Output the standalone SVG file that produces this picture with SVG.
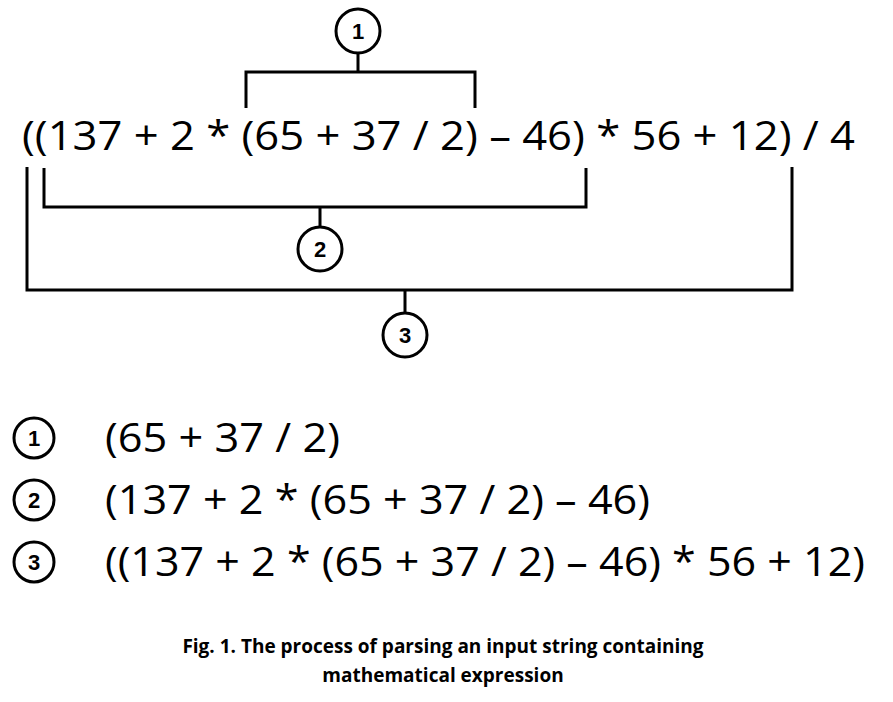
<svg xmlns="http://www.w3.org/2000/svg" width="893" height="702" viewBox="0 0 893 702">
<style>
.t{font-family:"Open Sans","Liberation Sans",sans-serif;font-size:40px;fill:#000}
.c{fill:#fff;stroke:#000;stroke-width:3}
.n{font-family:"Liberation Sans",sans-serif;font-size:22px;font-weight:bold;text-anchor:middle;fill:#000}
.b{fill:none;stroke:#000;stroke-width:3}
.cap{font-family:"Open Sans","Liberation Sans",sans-serif;font-size:19px;font-weight:bold;text-anchor:middle;fill:#000}
</style>
<rect width="893" height="702" fill="#fff"/>
<g id="connectors">
<path class="b" d="M246,108 V72 H475 V108 M358,72 V53"/>
<path class="b" d="M44,168 V207 H586 V168 M320,207 V228"/>
<path class="b" d="M27,167 V290 H792 V167 M405,290 V313"/>
</g>
<g id="expr"><text class="t" x="22" y="150" textLength="833" lengthAdjust="spacingAndGlyphs">((137 + 2 * (65 + 37 / 2) – 46) * 56 + 12) / 4</text></g>
<g id="node1"><circle class="c" cx="358" cy="31" r="22"/><text class="n" x="358" y="39">1</text></g>
<g id="node2"><circle class="c" cx="320" cy="249" r="22"/><text class="n" x="320" y="257">2</text></g>
<g id="node3"><circle class="c" cx="405" cy="335" r="22"/><text class="n" x="405" y="343">3</text></g>
<g id="legend1"><circle class="c" cx="34" cy="438" r="20"/><text class="n" x="34" y="446">1</text><text class="t" x="105" y="452" textLength="235" lengthAdjust="spacingAndGlyphs">(65 + 37 / 2)</text></g>
<g id="legend2"><circle class="c" cx="34" cy="500" r="20"/><text class="n" x="34" y="508">2</text><text class="t" x="105" y="514" textLength="545" lengthAdjust="spacingAndGlyphs">(137 + 2 * (65 + 37 / 2) – 46)</text></g>
<g id="legend3"><circle class="c" cx="34" cy="562" r="20"/><text class="n" x="34" y="570">3</text><text class="t" x="105" y="576" textLength="760" lengthAdjust="spacingAndGlyphs">((137 + 2 * (65 + 37 / 2) – 46) * 56 + 12)</text></g>
<g id="caption"><text class="cap" x="443" y="653">Fig. 1. The process of parsing an input string containing</text><text class="cap" x="443" y="682">mathematical expression</text></g>
</svg>
